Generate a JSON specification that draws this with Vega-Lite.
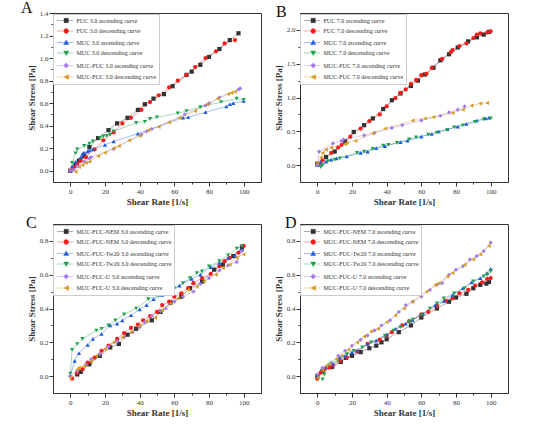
{
  "$schema": "https://vega.github.io/schema/vega-lite/v6.json",
  "padding": {"left": 20, "top": -1, "right": 0, "bottom": 0},
  "columns": 2,
  "bounds": "flush",
  "spacing": {"row": 42, "column": 39},
  "resolve": {"scale": {"color": "independent", "shape": "independent", "stroke": "independent"}},
  "config": {
    "background": "white",
    "font": "Liberation Serif",
    "view": {"stroke": "#333", "strokeWidth": 1},
    "title": {"font": "Liberation Serif", "fontSize": 16, "fontWeight": "normal", "anchor": "start", "frame": "group", "color": "#111", "offset": -6.5},
    "axis": {"grid": false, "labelFont": "Liberation Serif", "labelFontSize": 7, "labelColor": "#333", "titleFont": "Liberation Serif", "titleFontSize": 9, "titleFontWeight": "bold", "titleColor": "#333", "domainColor": "#333", "tickColor": "#333", "labelPadding": 1, "titlePadding": 3},
    "legend": {"orient": "none", "legendX": 0, "legendY": 1, "title": null, "labelFont": "Liberation Serif", "labelFontSize": 6, "labelColor": "#333", "symbolSize": 64, "symbolOffset": 5.5, "labelOffset": 7, "rowPadding": 1.5, "padding": 2, "strokeColor": "#ccc", "fillColor": "white", "symbolOpacity": 1}
  },
  "datasets": {
    "A": [
      {"s": "FUC 3.0 ascending curve", "x": 0, "y": 0}, {"s": "FUC 3.0 ascending curve", "x": 3, "y": 0.05}, {"s": "FUC 3.0 ascending curve", "x": 5, "y": 0.09}, {"s": "FUC 3.0 ascending curve", "x": 8, "y": 0.13}, {"s": "FUC 3.0 ascending curve", "x": 11, "y": 0.21}, {"s": "FUC 3.0 ascending curve", "x": 16, "y": 0.29}, {"s": "FUC 3.0 ascending curve", "x": 22, "y": 0.36}, {"s": "FUC 3.0 ascending curve", "x": 27, "y": 0.42}, {"s": "FUC 3.0 ascending curve", "x": 33, "y": 0.47}, {"s": "FUC 3.0 ascending curve", "x": 39, "y": 0.54}, {"s": "FUC 3.0 ascending curve", "x": 43, "y": 0.59}, {"s": "FUC 3.0 ascending curve", "x": 48, "y": 0.64}, {"s": "FUC 3.0 ascending curve", "x": 54, "y": 0.68}, {"s": "FUC 3.0 ascending curve", "x": 59, "y": 0.75}, {"s": "FUC 3.0 ascending curve", "x": 67, "y": 0.85}, {"s": "FUC 3.0 ascending curve", "x": 70, "y": 0.88}, {"s": "FUC 3.0 ascending curve", "x": 75, "y": 0.94}, {"s": "FUC 3.0 ascending curve", "x": 80, "y": 1.01}, {"s": "FUC 3.0 ascending curve", "x": 86, "y": 1.08}, {"s": "FUC 3.0 ascending curve", "x": 92, "y": 1.16}, {"s": "FUC 3.0 ascending curve", "x": 97, "y": 1.22},
      {"s": "FUC 3.0 descending curve", "x": 95, "y": 1.16}, {"s": "FUC 3.0 descending curve", "x": 89, "y": 1.13}, {"s": "FUC 3.0 descending curve", "x": 84, "y": 1.06}, {"s": "FUC 3.0 descending curve", "x": 78, "y": 1.0}, {"s": "FUC 3.0 descending curve", "x": 72, "y": 0.92}, {"s": "FUC 3.0 descending curve", "x": 67, "y": 0.85}, {"s": "FUC 3.0 descending curve", "x": 62, "y": 0.8}, {"s": "FUC 3.0 descending curve", "x": 57, "y": 0.74}, {"s": "FUC 3.0 descending curve", "x": 51, "y": 0.67}, {"s": "FUC 3.0 descending curve", "x": 46, "y": 0.61}, {"s": "FUC 3.0 descending curve", "x": 41, "y": 0.54}, {"s": "FUC 3.0 descending curve", "x": 35, "y": 0.47}, {"s": "FUC 3.0 descending curve", "x": 30, "y": 0.42}, {"s": "FUC 3.0 descending curve", "x": 25, "y": 0.34}, {"s": "FUC 3.0 descending curve", "x": 19, "y": 0.27}, {"s": "FUC 3.0 descending curve", "x": 14, "y": 0.19}, {"s": "FUC 3.0 descending curve", "x": 9, "y": 0.12}, {"s": "FUC 3.0 descending curve", "x": 6, "y": 0.09}, {"s": "FUC 3.0 descending curve", "x": 4, "y": 0.06}, {"s": "FUC 3.0 descending curve", "x": 2, "y": 0.03}, {"s": "FUC 3.0 descending curve", "x": 0, "y": 0.0},
      {"s": "MUC 3.0 ascending curve", "x": 0, "y": 0}, {"s": "MUC 3.0 ascending curve", "x": 1, "y": 0.04}, {"s": "MUC 3.0 ascending curve", "x": 3, "y": 0.08}, {"s": "MUC 3.0 ascending curve", "x": 6, "y": 0.12}, {"s": "MUC 3.0 ascending curve", "x": 7, "y": 0.15}, {"s": "MUC 3.0 ascending curve", "x": 8, "y": 0.16}, {"s": "MUC 3.0 ascending curve", "x": 10, "y": 0.17}, {"s": "MUC 3.0 ascending curve", "x": 11, "y": 0.18}, {"s": "MUC 3.0 ascending curve", "x": 13, "y": 0.19}, {"s": "MUC 3.0 ascending curve", "x": 20, "y": 0.23}, {"s": "MUC 3.0 ascending curve", "x": 25, "y": 0.26}, {"s": "MUC 3.0 ascending curve", "x": 39, "y": 0.33}, {"s": "MUC 3.0 ascending curve", "x": 65, "y": 0.47}, {"s": "MUC 3.0 ascending curve", "x": 68, "y": 0.475}, {"s": "MUC 3.0 ascending curve", "x": 78, "y": 0.52}, {"s": "MUC 3.0 ascending curve", "x": 90, "y": 0.57}, {"s": "MUC 3.0 ascending curve", "x": 92, "y": 0.59}, {"s": "MUC 3.0 ascending curve", "x": 94, "y": 0.6}, {"s": "MUC 3.0 ascending curve", "x": 100, "y": 0.62},
      {"s": "MUC 3.0 descending curve", "x": 100, "y": 0.63}, {"s": "MUC 3.0 descending curve", "x": 96, "y": 0.64}, {"s": "MUC 3.0 descending curve", "x": 87, "y": 0.61}, {"s": "MUC 3.0 descending curve", "x": 75, "y": 0.565}, {"s": "MUC 3.0 descending curve", "x": 67, "y": 0.53}, {"s": "MUC 3.0 descending curve", "x": 62, "y": 0.51}, {"s": "MUC 3.0 descending curve", "x": 50, "y": 0.475}, {"s": "MUC 3.0 descending curve", "x": 46, "y": 0.46}, {"s": "MUC 3.0 descending curve", "x": 43, "y": 0.435}, {"s": "MUC 3.0 descending curve", "x": 38, "y": 0.425}, {"s": "MUC 3.0 descending curve", "x": 25, "y": 0.35}, {"s": "MUC 3.0 descending curve", "x": 23, "y": 0.32}, {"s": "MUC 3.0 descending curve", "x": 21, "y": 0.31}, {"s": "MUC 3.0 descending curve", "x": 19, "y": 0.305}, {"s": "MUC 3.0 descending curve", "x": 17, "y": 0.29}, {"s": "MUC 3.0 descending curve", "x": 13, "y": 0.26}, {"s": "MUC 3.0 descending curve", "x": 11, "y": 0.24}, {"s": "MUC 3.0 descending curve", "x": 8, "y": 0.22}, {"s": "MUC 3.0 descending curve", "x": 4, "y": 0.19}, {"s": "MUC 3.0 descending curve", "x": 3, "y": 0.155}, {"s": "MUC 3.0 descending curve", "x": 1, "y": 0.07},
      {"s": "MUC-FUC 3.0 ascending curve", "x": 0, "y": 0}, {"s": "MUC-FUC 3.0 ascending curve", "x": 2, "y": 0.01}, {"s": "MUC-FUC 3.0 ascending curve", "x": 4, "y": 0.04}, {"s": "MUC-FUC 3.0 ascending curve", "x": 8, "y": 0.08}, {"s": "MUC-FUC 3.0 ascending curve", "x": 11, "y": 0.11}, {"s": "MUC-FUC 3.0 ascending curve", "x": 12, "y": 0.12}, {"s": "MUC-FUC 3.0 ascending curve", "x": 25, "y": 0.195}, {"s": "MUC-FUC 3.0 ascending curve", "x": 41, "y": 0.32}, {"s": "MUC-FUC 3.0 ascending curve", "x": 44, "y": 0.35}, {"s": "MUC-FUC 3.0 ascending curve", "x": 47, "y": 0.37}, {"s": "MUC-FUC 3.0 ascending curve", "x": 66, "y": 0.5}, {"s": "MUC-FUC 3.0 ascending curve", "x": 78, "y": 0.58}, {"s": "MUC-FUC 3.0 ascending curve", "x": 80, "y": 0.6}, {"s": "MUC-FUC 3.0 ascending curve", "x": 86, "y": 0.65}, {"s": "MUC-FUC 3.0 ascending curve", "x": 97, "y": 0.72}, {"s": "MUC-FUC 3.0 ascending curve", "x": 98, "y": 0.73},
      {"s": "MUC-FUC 3.0 descending curve", "x": 95, "y": 0.7}, {"s": "MUC-FUC 3.0 descending curve", "x": 93, "y": 0.69}, {"s": "MUC-FUC 3.0 descending curve", "x": 91, "y": 0.68}, {"s": "MUC-FUC 3.0 descending curve", "x": 85, "y": 0.64}, {"s": "MUC-FUC 3.0 descending curve", "x": 79, "y": 0.59}, {"s": "MUC-FUC 3.0 descending curve", "x": 72, "y": 0.53}, {"s": "MUC-FUC 3.0 descending curve", "x": 63, "y": 0.47}, {"s": "MUC-FUC 3.0 descending curve", "x": 57, "y": 0.43}, {"s": "MUC-FUC 3.0 descending curve", "x": 51, "y": 0.39}, {"s": "MUC-FUC 3.0 descending curve", "x": 45, "y": 0.36}, {"s": "MUC-FUC 3.0 descending curve", "x": 40, "y": 0.31}, {"s": "MUC-FUC 3.0 descending curve", "x": 34, "y": 0.27}, {"s": "MUC-FUC 3.0 descending curve", "x": 28, "y": 0.22}, {"s": "MUC-FUC 3.0 descending curve", "x": 25, "y": 0.2}, {"s": "MUC-FUC 3.0 descending curve", "x": 20, "y": 0.16}, {"s": "MUC-FUC 3.0 descending curve", "x": 16, "y": 0.13}, {"s": "MUC-FUC 3.0 descending curve", "x": 11, "y": 0.08}, {"s": "MUC-FUC 3.0 descending curve", "x": 9, "y": 0.07}, {"s": "MUC-FUC 3.0 descending curve", "x": 7, "y": 0.05}, {"s": "MUC-FUC 3.0 descending curve", "x": 5, "y": 0.035}, {"s": "MUC-FUC 3.0 descending curve", "x": 3, "y": -0.01}
    ],
    "B": [
      {"s": "FUC 7.0 ascending curve", "x": 0, "y": 0.02}, {"s": "FUC 7.0 ascending curve", "x": 5, "y": 0.12}, {"s": "FUC 7.0 ascending curve", "x": 10, "y": 0.2}, {"s": "FUC 7.0 ascending curve", "x": 16, "y": 0.35}, {"s": "FUC 7.0 ascending curve", "x": 21, "y": 0.49}, {"s": "FUC 7.0 ascending curve", "x": 27, "y": 0.59}, {"s": "FUC 7.0 ascending curve", "x": 32, "y": 0.69}, {"s": "FUC 7.0 ascending curve", "x": 38, "y": 0.83}, {"s": "FUC 7.0 ascending curve", "x": 43, "y": 0.96}, {"s": "FUC 7.0 ascending curve", "x": 48, "y": 1.06}, {"s": "FUC 7.0 ascending curve", "x": 54, "y": 1.17}, {"s": "FUC 7.0 ascending curve", "x": 58, "y": 1.25}, {"s": "FUC 7.0 ascending curve", "x": 62, "y": 1.34}, {"s": "FUC 7.0 ascending curve", "x": 67, "y": 1.44}, {"s": "FUC 7.0 ascending curve", "x": 71, "y": 1.55}, {"s": "FUC 7.0 ascending curve", "x": 76, "y": 1.64}, {"s": "FUC 7.0 ascending curve", "x": 81, "y": 1.74}, {"s": "FUC 7.0 ascending curve", "x": 87, "y": 1.83}, {"s": "FUC 7.0 ascending curve", "x": 92, "y": 1.89}, {"s": "FUC 7.0 ascending curve", "x": 96, "y": 1.93}, {"s": "FUC 7.0 ascending curve", "x": 99, "y": 1.97},
      {"s": "FUC 7.0 descending curve", "x": 100, "y": 1.98}, {"s": "FUC 7.0 descending curve", "x": 98, "y": 1.96}, {"s": "FUC 7.0 descending curve", "x": 94, "y": 1.95}, {"s": "FUC 7.0 descending curve", "x": 92, "y": 1.93}, {"s": "FUC 7.0 descending curve", "x": 90, "y": 1.88}, {"s": "FUC 7.0 descending curve", "x": 86, "y": 1.8}, {"s": "FUC 7.0 descending curve", "x": 82, "y": 1.76}, {"s": "FUC 7.0 descending curve", "x": 78, "y": 1.7}, {"s": "FUC 7.0 descending curve", "x": 77, "y": 1.67}, {"s": "FUC 7.0 descending curve", "x": 72, "y": 1.57}, {"s": "FUC 7.0 descending curve", "x": 66, "y": 1.44}, {"s": "FUC 7.0 descending curve", "x": 63, "y": 1.35}, {"s": "FUC 7.0 descending curve", "x": 60, "y": 1.33}, {"s": "FUC 7.0 descending curve", "x": 57, "y": 1.26}, {"s": "FUC 7.0 descending curve", "x": 54, "y": 1.2}, {"s": "FUC 7.0 descending curve", "x": 51, "y": 1.12}, {"s": "FUC 7.0 descending curve", "x": 48, "y": 1.07}, {"s": "FUC 7.0 descending curve", "x": 45, "y": 0.99}, {"s": "FUC 7.0 descending curve", "x": 40, "y": 0.87}, {"s": "FUC 7.0 descending curve", "x": 36, "y": 0.75}, {"s": "FUC 7.0 descending curve", "x": 30, "y": 0.65}, {"s": "FUC 7.0 descending curve", "x": 25, "y": 0.54}, {"s": "FUC 7.0 descending curve", "x": 19, "y": 0.42}, {"s": "FUC 7.0 descending curve", "x": 14, "y": 0.3}, {"s": "FUC 7.0 descending curve", "x": 12, "y": 0.26}, {"s": "FUC 7.0 descending curve", "x": 8, "y": 0.18}, {"s": "FUC 7.0 descending curve", "x": 3, "y": 0.07}, {"s": "FUC 7.0 descending curve", "x": 1, "y": 0.02},
      {"s": "MUC 7.0 ascending curve", "x": 0, "y": 0.0}, {"s": "MUC 7.0 ascending curve", "x": 2, "y": 0.04}, {"s": "MUC 7.0 ascending curve", "x": 5, "y": 0.05}, {"s": "MUC 7.0 ascending curve", "x": 8, "y": 0.08}, {"s": "MUC 7.0 ascending curve", "x": 11, "y": 0.1}, {"s": "MUC 7.0 ascending curve", "x": 17, "y": 0.13}, {"s": "MUC 7.0 ascending curve", "x": 25, "y": 0.18}, {"s": "MUC 7.0 ascending curve", "x": 29, "y": 0.2}, {"s": "MUC 7.0 ascending curve", "x": 34, "y": 0.25}, {"s": "MUC 7.0 ascending curve", "x": 39, "y": 0.28}, {"s": "MUC 7.0 ascending curve", "x": 48, "y": 0.34}, {"s": "MUC 7.0 ascending curve", "x": 52, "y": 0.36}, {"s": "MUC 7.0 ascending curve", "x": 60, "y": 0.42}, {"s": "MUC 7.0 ascending curve", "x": 66, "y": 0.46}, {"s": "MUC 7.0 ascending curve", "x": 70, "y": 0.5}, {"s": "MUC 7.0 ascending curve", "x": 75, "y": 0.53}, {"s": "MUC 7.0 ascending curve", "x": 81, "y": 0.57}, {"s": "MUC 7.0 ascending curve", "x": 86, "y": 0.61}, {"s": "MUC 7.0 ascending curve", "x": 92, "y": 0.66}, {"s": "MUC 7.0 ascending curve", "x": 97, "y": 0.69}, {"s": "MUC 7.0 ascending curve", "x": 99, "y": 0.7},
      {"s": "MUC 7.0 descending curve", "x": 100, "y": 0.69}, {"s": "MUC 7.0 descending curve", "x": 96, "y": 0.68}, {"s": "MUC 7.0 descending curve", "x": 91, "y": 0.64}, {"s": "MUC 7.0 descending curve", "x": 84, "y": 0.59}, {"s": "MUC 7.0 descending curve", "x": 79, "y": 0.56}, {"s": "MUC 7.0 descending curve", "x": 75, "y": 0.52}, {"s": "MUC 7.0 descending curve", "x": 69, "y": 0.48}, {"s": "MUC 7.0 descending curve", "x": 64, "y": 0.45}, {"s": "MUC 7.0 descending curve", "x": 57, "y": 0.41}, {"s": "MUC 7.0 descending curve", "x": 53, "y": 0.38}, {"s": "MUC 7.0 descending curve", "x": 46, "y": 0.33}, {"s": "MUC 7.0 descending curve", "x": 41, "y": 0.3}, {"s": "MUC 7.0 descending curve", "x": 38, "y": 0.29}, {"s": "MUC 7.0 descending curve", "x": 32, "y": 0.24}, {"s": "MUC 7.0 descending curve", "x": 27, "y": 0.2}, {"s": "MUC 7.0 descending curve", "x": 23, "y": 0.18}, {"s": "MUC 7.0 descending curve", "x": 13, "y": 0.1}, {"s": "MUC 7.0 descending curve", "x": 10, "y": 0.08}, {"s": "MUC 7.0 descending curve", "x": 6, "y": 0.06}, {"s": "MUC 7.0 descending curve", "x": 3, "y": 0.0}, {"s": "MUC 7.0 descending curve", "x": 2, "y": -0.03},
      {"s": "MUC-FUC 7.0 ascending curve", "x": 0, "y": 0.0}, {"s": "MUC-FUC 7.0 ascending curve", "x": 1, "y": 0.2}, {"s": "MUC-FUC 7.0 ascending curve", "x": 9, "y": 0.32}, {"s": "MUC-FUC 7.0 ascending curve", "x": 14, "y": 0.36}, {"s": "MUC-FUC 7.0 ascending curve", "x": 15, "y": 0.38}, {"s": "MUC-FUC 7.0 ascending curve", "x": 27, "y": 0.44}, {"s": "MUC-FUC 7.0 ascending curve", "x": 33, "y": 0.48}, {"s": "MUC-FUC 7.0 ascending curve", "x": 43, "y": 0.55}, {"s": "MUC-FUC 7.0 ascending curve", "x": 49, "y": 0.59}, {"s": "MUC-FUC 7.0 ascending curve", "x": 60, "y": 0.66}, {"s": "MUC-FUC 7.0 ascending curve", "x": 71, "y": 0.73}, {"s": "MUC-FUC 7.0 ascending curve", "x": 76, "y": 0.78}, {"s": "MUC-FUC 7.0 ascending curve", "x": 81, "y": 0.82}, {"s": "MUC-FUC 7.0 ascending curve", "x": 85, "y": 0.87},
      {"s": "MUC-FUC 7.0 descending curve", "x": 98, "y": 0.92}, {"s": "MUC-FUC 7.0 descending curve", "x": 94, "y": 0.91}, {"s": "MUC-FUC 7.0 descending curve", "x": 89, "y": 0.88}, {"s": "MUC-FUC 7.0 descending curve", "x": 84, "y": 0.82}, {"s": "MUC-FUC 7.0 descending curve", "x": 78, "y": 0.77}, {"s": "MUC-FUC 7.0 descending curve", "x": 67, "y": 0.71}, {"s": "MUC-FUC 7.0 descending curve", "x": 62, "y": 0.69}, {"s": "MUC-FUC 7.0 descending curve", "x": 55, "y": 0.66}, {"s": "MUC-FUC 7.0 descending curve", "x": 39, "y": 0.54}, {"s": "MUC-FUC 7.0 descending curve", "x": 32, "y": 0.47}, {"s": "MUC-FUC 7.0 descending curve", "x": 22, "y": 0.36}, {"s": "MUC-FUC 7.0 descending curve", "x": 17, "y": 0.33}, {"s": "MUC-FUC 7.0 descending curve", "x": 16, "y": 0.31}, {"s": "MUC-FUC 7.0 descending curve", "x": 8, "y": 0.26}, {"s": "MUC-FUC 7.0 descending curve", "x": 5, "y": 0.23}, {"s": "MUC-FUC 7.0 descending curve", "x": 3, "y": 0.18}, {"s": "MUC-FUC 7.0 descending curve", "x": 2, "y": 0.11}, {"s": "MUC-FUC 7.0 descending curve", "x": 0, "y": 0.03}
    ],
    "C": [
      {"s": "MUC-FUC-NEM 3.0 ascending curve", "x": 4, "y": 0.01}, {"s": "MUC-FUC-NEM 3.0 ascending curve", "x": 6, "y": 0.025}, {"s": "MUC-FUC-NEM 3.0 ascending curve", "x": 11, "y": 0.07}, {"s": "MUC-FUC-NEM 3.0 ascending curve", "x": 17, "y": 0.12}, {"s": "MUC-FUC-NEM 3.0 ascending curve", "x": 23, "y": 0.17}, {"s": "MUC-FUC-NEM 3.0 ascending curve", "x": 28, "y": 0.19}, {"s": "MUC-FUC-NEM 3.0 ascending curve", "x": 33, "y": 0.245}, {"s": "MUC-FUC-NEM 3.0 ascending curve", "x": 38, "y": 0.28}, {"s": "MUC-FUC-NEM 3.0 ascending curve", "x": 47, "y": 0.33}, {"s": "MUC-FUC-NEM 3.0 ascending curve", "x": 52, "y": 0.38}, {"s": "MUC-FUC-NEM 3.0 ascending curve", "x": 58, "y": 0.435}, {"s": "MUC-FUC-NEM 3.0 ascending curve", "x": 64, "y": 0.47}, {"s": "MUC-FUC-NEM 3.0 ascending curve", "x": 69, "y": 0.52}, {"s": "MUC-FUC-NEM 3.0 ascending curve", "x": 76, "y": 0.56}, {"s": "MUC-FUC-NEM 3.0 ascending curve", "x": 83, "y": 0.63}, {"s": "MUC-FUC-NEM 3.0 ascending curve", "x": 88, "y": 0.66}, {"s": "MUC-FUC-NEM 3.0 ascending curve", "x": 94, "y": 0.71}, {"s": "MUC-FUC-NEM 3.0 ascending curve", "x": 99, "y": 0.76},
      {"s": "MUC-FUC-NEM 3.0 descending curve", "x": 100, "y": 0.77}, {"s": "MUC-FUC-NEM 3.0 descending curve", "x": 97, "y": 0.73}, {"s": "MUC-FUC-NEM 3.0 descending curve", "x": 92, "y": 0.7}, {"s": "MUC-FUC-NEM 3.0 descending curve", "x": 89, "y": 0.68}, {"s": "MUC-FUC-NEM 3.0 descending curve", "x": 86, "y": 0.65}, {"s": "MUC-FUC-NEM 3.0 descending curve", "x": 81, "y": 0.605}, {"s": "MUC-FUC-NEM 3.0 descending curve", "x": 76, "y": 0.58}, {"s": "MUC-FUC-NEM 3.0 descending curve", "x": 71, "y": 0.55}, {"s": "MUC-FUC-NEM 3.0 descending curve", "x": 68, "y": 0.52}, {"s": "MUC-FUC-NEM 3.0 descending curve", "x": 64, "y": 0.49}, {"s": "MUC-FUC-NEM 3.0 descending curve", "x": 60, "y": 0.47}, {"s": "MUC-FUC-NEM 3.0 descending curve", "x": 57, "y": 0.44}, {"s": "MUC-FUC-NEM 3.0 descending curve", "x": 53, "y": 0.42}, {"s": "MUC-FUC-NEM 3.0 descending curve", "x": 50, "y": 0.38}, {"s": "MUC-FUC-NEM 3.0 descending curve", "x": 46, "y": 0.355}, {"s": "MUC-FUC-NEM 3.0 descending curve", "x": 42, "y": 0.33}, {"s": "MUC-FUC-NEM 3.0 descending curve", "x": 39, "y": 0.305}, {"s": "MUC-FUC-NEM 3.0 descending curve", "x": 35, "y": 0.285}, {"s": "MUC-FUC-NEM 3.0 descending curve", "x": 31, "y": 0.255}, {"s": "MUC-FUC-NEM 3.0 descending curve", "x": 27, "y": 0.22}, {"s": "MUC-FUC-NEM 3.0 descending curve", "x": 22, "y": 0.18}, {"s": "MUC-FUC-NEM 3.0 descending curve", "x": 18, "y": 0.15}, {"s": "MUC-FUC-NEM 3.0 descending curve", "x": 14, "y": 0.11}, {"s": "MUC-FUC-NEM 3.0 descending curve", "x": 10, "y": 0.08}, {"s": "MUC-FUC-NEM 3.0 descending curve", "x": 7, "y": 0.04}, {"s": "MUC-FUC-NEM 3.0 descending curve", "x": 4, "y": 0.02}, {"s": "MUC-FUC-NEM 3.0 descending curve", "x": 1, "y": -0.015},
      {"s": "MUC-FUC-Tw20 3.0 ascending curve", "x": 0, "y": 0.005}, {"s": "MUC-FUC-Tw20 3.0 ascending curve", "x": 2.5, "y": 0.09}, {"s": "MUC-FUC-Tw20 3.0 ascending curve", "x": 5, "y": 0.135}, {"s": "MUC-FUC-Tw20 3.0 ascending curve", "x": 10, "y": 0.185}, {"s": "MUC-FUC-Tw20 3.0 ascending curve", "x": 13, "y": 0.22}, {"s": "MUC-FUC-Tw20 3.0 ascending curve", "x": 18, "y": 0.25}, {"s": "MUC-FUC-Tw20 3.0 ascending curve", "x": 23, "y": 0.3}, {"s": "MUC-FUC-Tw20 3.0 ascending curve", "x": 27, "y": 0.31}, {"s": "MUC-FUC-Tw20 3.0 ascending curve", "x": 30, "y": 0.33}, {"s": "MUC-FUC-Tw20 3.0 ascending curve", "x": 35, "y": 0.36}, {"s": "MUC-FUC-Tw20 3.0 ascending curve", "x": 40, "y": 0.395}, {"s": "MUC-FUC-Tw20 3.0 ascending curve", "x": 44, "y": 0.42}, {"s": "MUC-FUC-Tw20 3.0 ascending curve", "x": 48, "y": 0.455}, {"s": "MUC-FUC-Tw20 3.0 ascending curve", "x": 53, "y": 0.48}, {"s": "MUC-FUC-Tw20 3.0 ascending curve", "x": 58, "y": 0.5}, {"s": "MUC-FUC-Tw20 3.0 ascending curve", "x": 63, "y": 0.535}, {"s": "MUC-FUC-Tw20 3.0 ascending curve", "x": 70, "y": 0.575}, {"s": "MUC-FUC-Tw20 3.0 ascending curve", "x": 75, "y": 0.6}, {"s": "MUC-FUC-Tw20 3.0 ascending curve", "x": 81, "y": 0.645}, {"s": "MUC-FUC-Tw20 3.0 ascending curve", "x": 86, "y": 0.67}, {"s": "MUC-FUC-Tw20 3.0 ascending curve", "x": 91, "y": 0.7}, {"s": "MUC-FUC-Tw20 3.0 ascending curve", "x": 95, "y": 0.715}, {"s": "MUC-FUC-Tw20 3.0 ascending curve", "x": 99, "y": 0.75},
      {"s": "MUC-FUC-Tw20 3.0 descending curve", "x": 99, "y": 0.77}, {"s": "MUC-FUC-Tw20 3.0 descending curve", "x": 96, "y": 0.755}, {"s": "MUC-FUC-Tw20 3.0 descending curve", "x": 91, "y": 0.715}, {"s": "MUC-FUC-Tw20 3.0 descending curve", "x": 86, "y": 0.68}, {"s": "MUC-FUC-Tw20 3.0 descending curve", "x": 80, "y": 0.65}, {"s": "MUC-FUC-Tw20 3.0 descending curve", "x": 76, "y": 0.62}, {"s": "MUC-FUC-Tw20 3.0 descending curve", "x": 73, "y": 0.61}, {"s": "MUC-FUC-Tw20 3.0 descending curve", "x": 69, "y": 0.58}, {"s": "MUC-FUC-Tw20 3.0 descending curve", "x": 65, "y": 0.55}, {"s": "MUC-FUC-Tw20 3.0 descending curve", "x": 60, "y": 0.52}, {"s": "MUC-FUC-Tw20 3.0 descending curve", "x": 55, "y": 0.5}, {"s": "MUC-FUC-Tw20 3.0 descending curve", "x": 51, "y": 0.475}, {"s": "MUC-FUC-Tw20 3.0 descending curve", "x": 45, "y": 0.455}, {"s": "MUC-FUC-Tw20 3.0 descending curve", "x": 38, "y": 0.4}, {"s": "MUC-FUC-Tw20 3.0 descending curve", "x": 31, "y": 0.365}, {"s": "MUC-FUC-Tw20 3.0 descending curve", "x": 26, "y": 0.33}, {"s": "MUC-FUC-Tw20 3.0 descending curve", "x": 22, "y": 0.3}, {"s": "MUC-FUC-Tw20 3.0 descending curve", "x": 18, "y": 0.28}, {"s": "MUC-FUC-Tw20 3.0 descending curve", "x": 15, "y": 0.27}, {"s": "MUC-FUC-Tw20 3.0 descending curve", "x": 7, "y": 0.22}, {"s": "MUC-FUC-Tw20 3.0 descending curve", "x": 4, "y": 0.19}, {"s": "MUC-FUC-Tw20 3.0 descending curve", "x": 1, "y": 0.155}, {"s": "MUC-FUC-Tw20 3.0 descending curve", "x": 0, "y": 0.015},
      {"s": "MUC-FUC-U 3.0 ascending curve", "x": 0, "y": 0.0}, {"s": "MUC-FUC-U 3.0 ascending curve", "x": 4, "y": 0.03}, {"s": "MUC-FUC-U 3.0 ascending curve", "x": 9, "y": 0.07}, {"s": "MUC-FUC-U 3.0 ascending curve", "x": 12, "y": 0.1}, {"s": "MUC-FUC-U 3.0 ascending curve", "x": 17, "y": 0.13}, {"s": "MUC-FUC-U 3.0 ascending curve", "x": 22, "y": 0.175}, {"s": "MUC-FUC-U 3.0 ascending curve", "x": 27, "y": 0.205}, {"s": "MUC-FUC-U 3.0 ascending curve", "x": 31, "y": 0.23}, {"s": "MUC-FUC-U 3.0 ascending curve", "x": 36, "y": 0.26}, {"s": "MUC-FUC-U 3.0 ascending curve", "x": 40, "y": 0.29}, {"s": "MUC-FUC-U 3.0 ascending curve", "x": 43, "y": 0.32}, {"s": "MUC-FUC-U 3.0 ascending curve", "x": 47, "y": 0.355}, {"s": "MUC-FUC-U 3.0 ascending curve", "x": 52, "y": 0.385}, {"s": "MUC-FUC-U 3.0 ascending curve", "x": 55, "y": 0.4}, {"s": "MUC-FUC-U 3.0 ascending curve", "x": 60, "y": 0.44}, {"s": "MUC-FUC-U 3.0 ascending curve", "x": 65, "y": 0.47}, {"s": "MUC-FUC-U 3.0 ascending curve", "x": 71, "y": 0.5}, {"s": "MUC-FUC-U 3.0 ascending curve", "x": 75, "y": 0.545}, {"s": "MUC-FUC-U 3.0 ascending curve", "x": 80, "y": 0.58}, {"s": "MUC-FUC-U 3.0 ascending curve", "x": 86, "y": 0.625}, {"s": "MUC-FUC-U 3.0 ascending curve", "x": 91, "y": 0.655}, {"s": "MUC-FUC-U 3.0 ascending curve", "x": 96, "y": 0.675}, {"s": "MUC-FUC-U 3.0 ascending curve", "x": 99, "y": 0.74},
      {"s": "MUC-FUC-U 3.0 descending curve", "x": 100, "y": 0.72}, {"s": "MUC-FUC-U 3.0 descending curve", "x": 96, "y": 0.7}, {"s": "MUC-FUC-U 3.0 descending curve", "x": 92, "y": 0.66}, {"s": "MUC-FUC-U 3.0 descending curve", "x": 88, "y": 0.64}, {"s": "MUC-FUC-U 3.0 descending curve", "x": 84, "y": 0.6}, {"s": "MUC-FUC-U 3.0 descending curve", "x": 77, "y": 0.56}, {"s": "MUC-FUC-U 3.0 descending curve", "x": 73, "y": 0.53}, {"s": "MUC-FUC-U 3.0 descending curve", "x": 68, "y": 0.51}, {"s": "MUC-FUC-U 3.0 descending curve", "x": 62, "y": 0.46}, {"s": "MUC-FUC-U 3.0 descending curve", "x": 58, "y": 0.43}, {"s": "MUC-FUC-U 3.0 descending curve", "x": 53, "y": 0.39}, {"s": "MUC-FUC-U 3.0 descending curve", "x": 49, "y": 0.345}, {"s": "MUC-FUC-U 3.0 descending curve", "x": 44, "y": 0.325}, {"s": "MUC-FUC-U 3.0 descending curve", "x": 40, "y": 0.3}, {"s": "MUC-FUC-U 3.0 descending curve", "x": 35, "y": 0.26}, {"s": "MUC-FUC-U 3.0 descending curve", "x": 30, "y": 0.23}, {"s": "MUC-FUC-U 3.0 descending curve", "x": 25, "y": 0.2}, {"s": "MUC-FUC-U 3.0 descending curve", "x": 20, "y": 0.16}, {"s": "MUC-FUC-U 3.0 descending curve", "x": 15, "y": 0.12}, {"s": "MUC-FUC-U 3.0 descending curve", "x": 12, "y": 0.085}, {"s": "MUC-FUC-U 3.0 descending curve", "x": 8, "y": 0.06}, {"s": "MUC-FUC-U 3.0 descending curve", "x": 5, "y": 0.05}, {"s": "MUC-FUC-U 3.0 descending curve", "x": 4, "y": 0.04}, {"s": "MUC-FUC-U 3.0 descending curve", "x": 0, "y": -0.01}
    ],
    "D": [
      {"s": "MUC-FUC-NEM 7.0 ascending curve", "x": 0, "y": 0.0}, {"s": "MUC-FUC-NEM 7.0 ascending curve", "x": 3, "y": 0.03}, {"s": "MUC-FUC-NEM 7.0 ascending curve", "x": 8.5, "y": 0.054}, {"s": "MUC-FUC-NEM 7.0 ascending curve", "x": 13.5, "y": 0.084}, {"s": "MUC-FUC-NEM 7.0 ascending curve", "x": 16.5, "y": 0.108}, {"s": "MUC-FUC-NEM 7.0 ascending curve", "x": 20, "y": 0.12}, {"s": "MUC-FUC-NEM 7.0 ascending curve", "x": 25, "y": 0.142}, {"s": "MUC-FUC-NEM 7.0 ascending curve", "x": 30, "y": 0.165}, {"s": "MUC-FUC-NEM 7.0 ascending curve", "x": 34, "y": 0.18}, {"s": "MUC-FUC-NEM 7.0 ascending curve", "x": 37, "y": 0.2}, {"s": "MUC-FUC-NEM 7.0 ascending curve", "x": 40, "y": 0.218}, {"s": "MUC-FUC-NEM 7.0 ascending curve", "x": 47, "y": 0.26}, {"s": "MUC-FUC-NEM 7.0 ascending curve", "x": 54, "y": 0.3}, {"s": "MUC-FUC-NEM 7.0 ascending curve", "x": 60, "y": 0.347}, {"s": "MUC-FUC-NEM 7.0 ascending curve", "x": 69, "y": 0.4}, {"s": "MUC-FUC-NEM 7.0 ascending curve", "x": 76, "y": 0.44}, {"s": "MUC-FUC-NEM 7.0 ascending curve", "x": 80, "y": 0.465}, {"s": "MUC-FUC-NEM 7.0 ascending curve", "x": 86, "y": 0.487}, {"s": "MUC-FUC-NEM 7.0 ascending curve", "x": 90, "y": 0.52}, {"s": "MUC-FUC-NEM 7.0 ascending curve", "x": 94, "y": 0.54}, {"s": "MUC-FUC-NEM 7.0 ascending curve", "x": 97.5, "y": 0.547}, {"s": "MUC-FUC-NEM 7.0 ascending curve", "x": 99, "y": 0.557},
      {"s": "MUC-FUC-NEM 7.0 descending curve", "x": 100, "y": 0.58}, {"s": "MUC-FUC-NEM 7.0 descending curve", "x": 98, "y": 0.575}, {"s": "MUC-FUC-NEM 7.0 descending curve", "x": 95, "y": 0.555}, {"s": "MUC-FUC-NEM 7.0 descending curve", "x": 91, "y": 0.535}, {"s": "MUC-FUC-NEM 7.0 descending curve", "x": 87, "y": 0.51}, {"s": "MUC-FUC-NEM 7.0 descending curve", "x": 82, "y": 0.49}, {"s": "MUC-FUC-NEM 7.0 descending curve", "x": 78, "y": 0.46}, {"s": "MUC-FUC-NEM 7.0 descending curve", "x": 74, "y": 0.445}, {"s": "MUC-FUC-NEM 7.0 descending curve", "x": 69, "y": 0.415}, {"s": "MUC-FUC-NEM 7.0 descending curve", "x": 64, "y": 0.38}, {"s": "MUC-FUC-NEM 7.0 descending curve", "x": 60, "y": 0.365}, {"s": "MUC-FUC-NEM 7.0 descending curve", "x": 53, "y": 0.325}, {"s": "MUC-FUC-NEM 7.0 descending curve", "x": 49, "y": 0.3}, {"s": "MUC-FUC-NEM 7.0 descending curve", "x": 43, "y": 0.26}, {"s": "MUC-FUC-NEM 7.0 descending curve", "x": 40, "y": 0.24}, {"s": "MUC-FUC-NEM 7.0 descending curve", "x": 36, "y": 0.215}, {"s": "MUC-FUC-NEM 7.0 descending curve", "x": 29, "y": 0.19}, {"s": "MUC-FUC-NEM 7.0 descending curve", "x": 23, "y": 0.145}, {"s": "MUC-FUC-NEM 7.0 descending curve", "x": 17, "y": 0.11}, {"s": "MUC-FUC-NEM 7.0 descending curve", "x": 13, "y": 0.09}, {"s": "MUC-FUC-NEM 7.0 descending curve", "x": 9, "y": 0.065}, {"s": "MUC-FUC-NEM 7.0 descending curve", "x": 7, "y": 0.05}, {"s": "MUC-FUC-NEM 7.0 descending curve", "x": 4, "y": 0.04}, {"s": "MUC-FUC-NEM 7.0 descending curve", "x": 2, "y": 0.02}, {"s": "MUC-FUC-NEM 7.0 descending curve", "x": 0, "y": -0.015},
      {"s": "MUC-FUC-Tw20 7.0 ascending curve", "x": 0, "y": 0.0}, {"s": "MUC-FUC-Tw20 7.0 ascending curve", "x": 3, "y": 0.04}, {"s": "MUC-FUC-Tw20 7.0 ascending curve", "x": 5, "y": 0.055}, {"s": "MUC-FUC-Tw20 7.0 ascending curve", "x": 9, "y": 0.07}, {"s": "MUC-FUC-Tw20 7.0 ascending curve", "x": 13, "y": 0.11}, {"s": "MUC-FUC-Tw20 7.0 ascending curve", "x": 16, "y": 0.12}, {"s": "MUC-FUC-Tw20 7.0 ascending curve", "x": 20, "y": 0.14}, {"s": "MUC-FUC-Tw20 7.0 ascending curve", "x": 23, "y": 0.15}, {"s": "MUC-FUC-Tw20 7.0 ascending curve", "x": 29, "y": 0.19}, {"s": "MUC-FUC-Tw20 7.0 ascending curve", "x": 34, "y": 0.21}, {"s": "MUC-FUC-Tw20 7.0 ascending curve", "x": 40, "y": 0.245}, {"s": "MUC-FUC-Tw20 7.0 ascending curve", "x": 45, "y": 0.28}, {"s": "MUC-FUC-Tw20 7.0 ascending curve", "x": 51, "y": 0.31}, {"s": "MUC-FUC-Tw20 7.0 ascending curve", "x": 55, "y": 0.33}, {"s": "MUC-FUC-Tw20 7.0 ascending curve", "x": 61, "y": 0.37}, {"s": "MUC-FUC-Tw20 7.0 ascending curve", "x": 68, "y": 0.42}, {"s": "MUC-FUC-Tw20 7.0 ascending curve", "x": 73, "y": 0.445}, {"s": "MUC-FUC-Tw20 7.0 ascending curve", "x": 78, "y": 0.48}, {"s": "MUC-FUC-Tw20 7.0 ascending curve", "x": 84, "y": 0.52}, {"s": "MUC-FUC-Tw20 7.0 ascending curve", "x": 89, "y": 0.555}, {"s": "MUC-FUC-Tw20 7.0 ascending curve", "x": 94, "y": 0.58}, {"s": "MUC-FUC-Tw20 7.0 ascending curve", "x": 98, "y": 0.61}, {"s": "MUC-FUC-Tw20 7.0 ascending curve", "x": 100, "y": 0.635},
      {"s": "MUC-FUC-Tw20 7.0 descending curve", "x": 100, "y": 0.62}, {"s": "MUC-FUC-Tw20 7.0 descending curve", "x": 98, "y": 0.6}, {"s": "MUC-FUC-Tw20 7.0 descending curve", "x": 96, "y": 0.59}, {"s": "MUC-FUC-Tw20 7.0 descending curve", "x": 90, "y": 0.56}, {"s": "MUC-FUC-Tw20 7.0 descending curve", "x": 85, "y": 0.52}, {"s": "MUC-FUC-Tw20 7.0 descending curve", "x": 79, "y": 0.49}, {"s": "MUC-FUC-Tw20 7.0 descending curve", "x": 73, "y": 0.46}, {"s": "MUC-FUC-Tw20 7.0 descending curve", "x": 69, "y": 0.43}, {"s": "MUC-FUC-Tw20 7.0 descending curve", "x": 65, "y": 0.4}, {"s": "MUC-FUC-Tw20 7.0 descending curve", "x": 60, "y": 0.36}, {"s": "MUC-FUC-Tw20 7.0 descending curve", "x": 55, "y": 0.335}, {"s": "MUC-FUC-Tw20 7.0 descending curve", "x": 53, "y": 0.32}, {"s": "MUC-FUC-Tw20 7.0 descending curve", "x": 48, "y": 0.29}, {"s": "MUC-FUC-Tw20 7.0 descending curve", "x": 44, "y": 0.27}, {"s": "MUC-FUC-Tw20 7.0 descending curve", "x": 39, "y": 0.24}, {"s": "MUC-FUC-Tw20 7.0 descending curve", "x": 31, "y": 0.2}, {"s": "MUC-FUC-Tw20 7.0 descending curve", "x": 26, "y": 0.17}, {"s": "MUC-FUC-Tw20 7.0 descending curve", "x": 21, "y": 0.15}, {"s": "MUC-FUC-Tw20 7.0 descending curve", "x": 17, "y": 0.13}, {"s": "MUC-FUC-Tw20 7.0 descending curve", "x": 12, "y": 0.09}, {"s": "MUC-FUC-Tw20 7.0 descending curve", "x": 7, "y": 0.065}, {"s": "MUC-FUC-Tw20 7.0 descending curve", "x": 4, "y": 0.01}, {"s": "MUC-FUC-Tw20 7.0 descending curve", "x": 3, "y": -0.02},
      {"s": "MUC-FUC-U 7.0 ascending curve", "x": 0, "y": 0.01}, {"s": "MUC-FUC-U 7.0 ascending curve", "x": 3, "y": 0.05}, {"s": "MUC-FUC-U 7.0 ascending curve", "x": 8, "y": 0.08}, {"s": "MUC-FUC-U 7.0 ascending curve", "x": 12, "y": 0.12}, {"s": "MUC-FUC-U 7.0 ascending curve", "x": 16, "y": 0.15}, {"s": "MUC-FUC-U 7.0 ascending curve", "x": 20, "y": 0.18}, {"s": "MUC-FUC-U 7.0 ascending curve", "x": 25, "y": 0.215}, {"s": "MUC-FUC-U 7.0 ascending curve", "x": 29, "y": 0.24}, {"s": "MUC-FUC-U 7.0 ascending curve", "x": 33, "y": 0.27}, {"s": "MUC-FUC-U 7.0 ascending curve", "x": 37, "y": 0.3}, {"s": "MUC-FUC-U 7.0 ascending curve", "x": 42, "y": 0.33}, {"s": "MUC-FUC-U 7.0 ascending curve", "x": 47, "y": 0.38}, {"s": "MUC-FUC-U 7.0 ascending curve", "x": 51, "y": 0.42}, {"s": "MUC-FUC-U 7.0 ascending curve", "x": 55, "y": 0.44}, {"s": "MUC-FUC-U 7.0 ascending curve", "x": 60, "y": 0.47}, {"s": "MUC-FUC-U 7.0 ascending curve", "x": 65, "y": 0.51}, {"s": "MUC-FUC-U 7.0 ascending curve", "x": 69, "y": 0.54}, {"s": "MUC-FUC-U 7.0 ascending curve", "x": 72, "y": 0.55}, {"s": "MUC-FUC-U 7.0 ascending curve", "x": 76, "y": 0.6}, {"s": "MUC-FUC-U 7.0 ascending curve", "x": 80, "y": 0.63}, {"s": "MUC-FUC-U 7.0 ascending curve", "x": 84, "y": 0.65}, {"s": "MUC-FUC-U 7.0 ascending curve", "x": 88, "y": 0.69}, {"s": "MUC-FUC-U 7.0 ascending curve", "x": 92, "y": 0.71}, {"s": "MUC-FUC-U 7.0 ascending curve", "x": 96, "y": 0.74}, {"s": "MUC-FUC-U 7.0 ascending curve", "x": 100, "y": 0.79},
      {"s": "MUC-FUC-U 7.0 descending curve", "x": 99, "y": 0.77}, {"s": "MUC-FUC-U 7.0 descending curve", "x": 94, "y": 0.72}, {"s": "MUC-FUC-U 7.0 descending curve", "x": 90, "y": 0.69}, {"s": "MUC-FUC-U 7.0 descending curve", "x": 85, "y": 0.66}, {"s": "MUC-FUC-U 7.0 descending curve", "x": 78, "y": 0.61}, {"s": "MUC-FUC-U 7.0 descending curve", "x": 75, "y": 0.59}, {"s": "MUC-FUC-U 7.0 descending curve", "x": 70, "y": 0.55}, {"s": "MUC-FUC-U 7.0 descending curve", "x": 68, "y": 0.54}, {"s": "MUC-FUC-U 7.0 descending curve", "x": 63, "y": 0.5}, {"s": "MUC-FUC-U 7.0 descending curve", "x": 59, "y": 0.48}, {"s": "MUC-FUC-U 7.0 descending curve", "x": 55, "y": 0.44}, {"s": "MUC-FUC-U 7.0 descending curve", "x": 50, "y": 0.4}, {"s": "MUC-FUC-U 7.0 descending curve", "x": 45, "y": 0.36}, {"s": "MUC-FUC-U 7.0 descending curve", "x": 40, "y": 0.32}, {"s": "MUC-FUC-U 7.0 descending curve", "x": 35, "y": 0.28}, {"s": "MUC-FUC-U 7.0 descending curve", "x": 31, "y": 0.265}, {"s": "MUC-FUC-U 7.0 descending curve", "x": 27, "y": 0.235}, {"s": "MUC-FUC-U 7.0 descending curve", "x": 23, "y": 0.2}, {"s": "MUC-FUC-U 7.0 descending curve", "x": 18, "y": 0.155}, {"s": "MUC-FUC-U 7.0 descending curve", "x": 14, "y": 0.12}, {"s": "MUC-FUC-U 7.0 descending curve", "x": 11, "y": 0.1}, {"s": "MUC-FUC-U 7.0 descending curve", "x": 7, "y": 0.07}, {"s": "MUC-FUC-U 7.0 descending curve", "x": 5, "y": 0.06}, {"s": "MUC-FUC-U 7.0 descending curve", "x": 3, "y": 0.035}, {"s": "MUC-FUC-U 7.0 descending curve", "x": 0, "y": -0.01}
    ]
  },
  "concat": [
    {
      "title": {"text": "A", "dx": -32},
      "width": 208, "height": 169,
      "data": {"name": "A"},
      "encoding": {
        "x": {"field": "x", "type": "quantitative", "title": "Shear Rate [1/s]", "scale": {"domain": [-10, 110], "nice": false, "zero": false},
          "axis": {"values": [0, 10, 20, 30, 40, 50, 60, 70, 80, 90, 100], "labelExpr": "datum.value % 20 == 0 ? datum.label : ''", "tickSize": {"condition": {"test": "datum.value % 20 == 0", "value": 4}, "value": 2}}},
        "y": {"field": "y", "type": "quantitative", "title": "Shear Stress [Pa]", "scale": {"domain": [-0.1, 1.4], "nice": false, "zero": false},
          "axis": {"values": [0, 0.1, 0.2, 0.3, 0.4, 0.5, 0.6, 0.7, 0.8, 0.9, 1.0, 1.1, 1.2, 1.3, 1.4], "format": ".1f", "labelExpr": "round(datum.value * 10) % 2 == 0 ? datum.label : ''", "tickSize": {"condition": {"test": "round(datum.value * 10) % 2 == 0", "value": 4}, "value": 2}}}
      },
      "layer": [
        {"mark": {"type": "line", "strokeWidth": 1, "strokeOpacity": 0.4},
          "encoding": {"stroke": {"field": "s", "type": "nominal", "legend": null,
            "scale": {"domain": ["MUC-FUC 3.0 descending curve", "MUC-FUC 3.0 ascending curve", "MUC 3.0 descending curve", "MUC 3.0 ascending curve", "FUC 3.0 descending curve", "FUC 3.0 ascending curve"], "range": ["#d39b1e", "#a57be8", "#1fa14f", "#1f5ae0", "#f21c1c", "#333333"]}}}},
        {"mark": {"type": "point", "filled": true, "size": 18, "opacity": 1},
          "encoding": {
            "color": {"field": "s", "type": "nominal",
              "scale": {"domain": ["FUC 3.0 ascending curve", "FUC 3.0 descending curve", "MUC 3.0 ascending curve", "MUC 3.0 descending curve", "MUC-FUC 3.0 ascending curve", "MUC-FUC 3.0 descending curve"], "range": ["#333333", "#f21c1c", "#1f5ae0", "#1fa14f", "#a57be8", "#d39b1e"]},
              "legend": {"encode": {"symbols": {"update": {
                "shape": {"signal": "['M-2,0H-0.25M0.85,0H2M-0.25,-0.55H0.85V0.55H-0.25Z','M-2,0H-0.3M0.9,0H2M-0.3,0A0.6,0.6 0 1,0 0.9,0A0.6,0.6 0 1,0 -0.3,0Z','M-2,0H-0.07M0.67,0H2M0.3,-0.65L0.95,0.5L-0.35,0.5Z','M-2,0H-0.07M0.67,0H2M0.3,0.65L0.95,-0.5L-0.35,-0.5Z','M-2,0H-0.35M0.95,0H2M0.3,-0.65L0.95,0L0.3,0.65L-0.35,0Z','M-2,0H-0.3M0.9,0H2M-0.3,0L0.9,-0.6L0.9,0.6Z'][datum.index]"},
                "stroke": {"signal": "['#333333','#f21c1c','#1f5ae0','#1fa14f','#a57be8','#d39b1e'][datum.index]"},
                "strokeOpacity": {"value": 0.4}, "strokeWidth": {"value": 1}}}}}},
            "shape": {"field": "s", "type": "nominal", "legend": null,
              "scale": {"domain": ["MUC-FUC 3.0 descending curve", "MUC-FUC 3.0 ascending curve", "MUC 3.0 descending curve", "MUC 3.0 ascending curve", "FUC 3.0 descending curve", "FUC 3.0 ascending curve"], "range": ["triangle-left", "diamond", "triangle-down", "triangle-up", "circle", "square"]}}}}
      ]
    },
    {
      "title": {"text": "B", "dx": -24},
      "width": 208, "height": 169,
      "data": {"name": "B"},
      "encoding": {
        "x": {"field": "x", "type": "quantitative", "title": "Shear Rate [1/s]", "scale": {"domain": [-10, 110], "nice": false, "zero": false},
          "axis": {"values": [0, 10, 20, 30, 40, 50, 60, 70, 80, 90, 100], "labelExpr": "datum.value % 20 == 0 ? datum.label : ''", "tickSize": {"condition": {"test": "datum.value % 20 == 0", "value": 4}, "value": 2}}},
        "y": {"field": "y", "type": "quantitative", "title": "Shear Stress [Pa]", "scale": {"domain": [-0.25, 2.25], "nice": false, "zero": false},
          "axis": {"values": [0, 0.25, 0.5, 0.75, 1.0, 1.25, 1.5, 1.75, 2.0], "format": ".1f", "labelExpr": "round(datum.value * 4) % 2 == 0 ? datum.label : ''", "tickSize": {"condition": {"test": "round(datum.value * 4) % 2 == 0", "value": 4}, "value": 2}}}
      },
      "layer": [
        {"mark": {"type": "line", "strokeWidth": 1, "strokeOpacity": 0.4},
          "encoding": {"stroke": {"field": "s", "type": "nominal", "legend": null,
            "scale": {"domain": ["MUC-FUC 7.0 descending curve", "MUC-FUC 7.0 ascending curve", "MUC 7.0 descending curve", "MUC 7.0 ascending curve", "FUC 7.0 descending curve", "FUC 7.0 ascending curve"], "range": ["#d39b1e", "#a57be8", "#1fa14f", "#1f5ae0", "#f21c1c", "#333333"]}}}},
        {"mark": {"type": "point", "filled": true, "size": 18, "opacity": 1},
          "encoding": {
            "color": {"field": "s", "type": "nominal",
              "scale": {"domain": ["FUC 7.0 ascending curve", "FUC 7.0 descending curve", "MUC 7.0 ascending curve", "MUC 7.0 descending curve", "MUC-FUC 7.0 ascending curve", "MUC-FUC 7.0 descending curve"], "range": ["#333333", "#f21c1c", "#1f5ae0", "#1fa14f", "#a57be8", "#d39b1e"]},
              "legend": {"encode": {"symbols": {"update": {
                "shape": {"signal": "['M-2,0H-0.25M0.85,0H2M-0.25,-0.55H0.85V0.55H-0.25Z','M-2,0H-0.3M0.9,0H2M-0.3,0A0.6,0.6 0 1,0 0.9,0A0.6,0.6 0 1,0 -0.3,0Z','M-2,0H-0.07M0.67,0H2M0.3,-0.65L0.95,0.5L-0.35,0.5Z','M-2,0H-0.07M0.67,0H2M0.3,0.65L0.95,-0.5L-0.35,-0.5Z','M-2,0H-0.35M0.95,0H2M0.3,-0.65L0.95,0L0.3,0.65L-0.35,0Z','M-2,0H-0.3M0.9,0H2M-0.3,0L0.9,-0.6L0.9,0.6Z'][datum.index]"},
                "stroke": {"signal": "['#333333','#f21c1c','#1f5ae0','#1fa14f','#a57be8','#d39b1e'][datum.index]"},
                "strokeOpacity": {"value": 0.4}, "strokeWidth": {"value": 1}}}}}},
            "shape": {"field": "s", "type": "nominal", "legend": null,
              "scale": {"domain": ["MUC-FUC 7.0 descending curve", "MUC-FUC 7.0 ascending curve", "MUC 7.0 descending curve", "MUC 7.0 ascending curve", "FUC 7.0 descending curve", "FUC 7.0 ascending curve"], "range": ["triangle-left", "diamond", "triangle-down", "triangle-up", "circle", "square"]}}}}
      ]
    },
    {
      "title": {"text": "C", "dx": -27},
      "width": 208, "height": 169,
      "data": {"name": "C"},
      "encoding": {
        "x": {"field": "x", "type": "quantitative", "title": "Shear Rate [1/s]", "scale": {"domain": [-10, 110], "nice": false, "zero": false},
          "axis": {"values": [0, 10, 20, 30, 40, 50, 60, 70, 80, 90, 100], "labelExpr": "datum.value % 20 == 0 ? datum.label : ''", "tickSize": {"condition": {"test": "datum.value % 20 == 0", "value": 4}, "value": 2}}},
        "y": {"field": "y", "type": "quantitative", "title": "Shear Stress [Pa]", "scale": {"domain": [-0.1, 0.9], "nice": false, "zero": false},
          "axis": {"values": [0, 0.1, 0.2, 0.3, 0.4, 0.5, 0.6, 0.7, 0.8], "format": ".1f", "labelExpr": "round(datum.value * 10) % 2 == 0 ? datum.label : ''", "tickSize": {"condition": {"test": "round(datum.value * 10) % 2 == 0", "value": 4}, "value": 2}}}
      },
      "layer": [
        {"mark": {"type": "line", "strokeWidth": 1, "strokeOpacity": 0.4},
          "encoding": {"stroke": {"field": "s", "type": "nominal", "legend": null,
            "scale": {"domain": ["MUC-FUC-U 3.0 descending curve", "MUC-FUC-U 3.0 ascending curve", "MUC-FUC-Tw20 3.0 descending curve", "MUC-FUC-Tw20 3.0 ascending curve", "MUC-FUC-NEM 3.0 descending curve", "MUC-FUC-NEM 3.0 ascending curve"], "range": ["#d39b1e", "#a57be8", "#1fa14f", "#1f5ae0", "#f21c1c", "#333333"]}}}},
        {"mark": {"type": "point", "filled": true, "size": 18, "opacity": 1},
          "encoding": {
            "color": {"field": "s", "type": "nominal",
              "scale": {"domain": ["MUC-FUC-NEM 3.0 ascending curve", "MUC-FUC-NEM 3.0 descending curve", "MUC-FUC-Tw20 3.0 ascending curve", "MUC-FUC-Tw20 3.0 descending curve", "MUC-FUC-U 3.0 ascending curve", "MUC-FUC-U 3.0 descending curve"], "range": ["#333333", "#f21c1c", "#1f5ae0", "#1fa14f", "#a57be8", "#d39b1e"]},
              "legend": {"encode": {"symbols": {"update": {
                "shape": {"signal": "['M-2,0H-0.25M0.85,0H2M-0.25,-0.55H0.85V0.55H-0.25Z','M-2,0H-0.3M0.9,0H2M-0.3,0A0.6,0.6 0 1,0 0.9,0A0.6,0.6 0 1,0 -0.3,0Z','M-2,0H-0.07M0.67,0H2M0.3,-0.65L0.95,0.5L-0.35,0.5Z','M-2,0H-0.07M0.67,0H2M0.3,0.65L0.95,-0.5L-0.35,-0.5Z','M-2,0H-0.35M0.95,0H2M0.3,-0.65L0.95,0L0.3,0.65L-0.35,0Z','M-2,0H-0.3M0.9,0H2M-0.3,0L0.9,-0.6L0.9,0.6Z'][datum.index]"},
                "stroke": {"signal": "['#333333','#f21c1c','#1f5ae0','#1fa14f','#a57be8','#d39b1e'][datum.index]"},
                "strokeOpacity": {"value": 0.4}, "strokeWidth": {"value": 1}}}}}},
            "shape": {"field": "s", "type": "nominal", "legend": null,
              "scale": {"domain": ["MUC-FUC-U 3.0 descending curve", "MUC-FUC-U 3.0 ascending curve", "MUC-FUC-Tw20 3.0 descending curve", "MUC-FUC-Tw20 3.0 ascending curve", "MUC-FUC-NEM 3.0 descending curve", "MUC-FUC-NEM 3.0 ascending curve"], "range": ["triangle-left", "diamond", "triangle-down", "triangle-up", "circle", "square"]}}}}
      ]
    },
    {
      "title": {"text": "D", "dx": -15},
      "width": 208, "height": 169,
      "data": {"name": "D"},
      "encoding": {
        "x": {"field": "x", "type": "quantitative", "title": "Shear Rate [1/s]", "scale": {"domain": [-10, 110], "nice": false, "zero": false},
          "axis": {"values": [0, 10, 20, 30, 40, 50, 60, 70, 80, 90, 100], "labelExpr": "datum.value % 20 == 0 ? datum.label : ''", "tickSize": {"condition": {"test": "datum.value % 20 == 0", "value": 4}, "value": 2}}},
        "y": {"field": "y", "type": "quantitative", "title": "Shear Stress [Pa]", "scale": {"domain": [-0.1, 0.9], "nice": false, "zero": false},
          "axis": {"values": [0, 0.1, 0.2, 0.3, 0.4, 0.5, 0.6, 0.7, 0.8], "format": ".1f", "labelExpr": "round(datum.value * 10) % 2 == 0 ? datum.label : ''", "tickSize": {"condition": {"test": "round(datum.value * 10) % 2 == 0", "value": 4}, "value": 2}}}
      },
      "layer": [
        {"mark": {"type": "line", "strokeWidth": 1, "strokeOpacity": 0.4},
          "encoding": {"stroke": {"field": "s", "type": "nominal", "legend": null,
            "scale": {"domain": ["MUC-FUC-U 7.0 descending curve", "MUC-FUC-U 7.0 ascending curve", "MUC-FUC-Tw20 7.0 descending curve", "MUC-FUC-Tw20 7.0 ascending curve", "MUC-FUC-NEM 7.0 descending curve", "MUC-FUC-NEM 7.0 ascending curve"], "range": ["#d39b1e", "#a57be8", "#1fa14f", "#1f5ae0", "#f21c1c", "#333333"]}}}},
        {"mark": {"type": "point", "filled": true, "size": 18, "opacity": 1},
          "encoding": {
            "color": {"field": "s", "type": "nominal",
              "scale": {"domain": ["MUC-FUC-NEM 7.0 ascending curve", "MUC-FUC-NEM 7.0 descending curve", "MUC-FUC-Tw20 7.0 ascending curve", "MUC-FUC-Tw20 7.0 descending curve", "MUC-FUC-U 7.0 ascending curve", "MUC-FUC-U 7.0 descending curve"], "range": ["#333333", "#f21c1c", "#1f5ae0", "#1fa14f", "#a57be8", "#d39b1e"]},
              "legend": {"encode": {"symbols": {"update": {
                "shape": {"signal": "['M-2,0H-0.25M0.85,0H2M-0.25,-0.55H0.85V0.55H-0.25Z','M-2,0H-0.3M0.9,0H2M-0.3,0A0.6,0.6 0 1,0 0.9,0A0.6,0.6 0 1,0 -0.3,0Z','M-2,0H-0.07M0.67,0H2M0.3,-0.65L0.95,0.5L-0.35,0.5Z','M-2,0H-0.07M0.67,0H2M0.3,0.65L0.95,-0.5L-0.35,-0.5Z','M-2,0H-0.35M0.95,0H2M0.3,-0.65L0.95,0L0.3,0.65L-0.35,0Z','M-2,0H-0.3M0.9,0H2M-0.3,0L0.9,-0.6L0.9,0.6Z'][datum.index]"},
                "stroke": {"signal": "['#333333','#f21c1c','#1f5ae0','#1fa14f','#a57be8','#d39b1e'][datum.index]"},
                "strokeOpacity": {"value": 0.4}, "strokeWidth": {"value": 1}}}}}},
            "shape": {"field": "s", "type": "nominal", "legend": null,
              "scale": {"domain": ["MUC-FUC-U 7.0 descending curve", "MUC-FUC-U 7.0 ascending curve", "MUC-FUC-Tw20 7.0 descending curve", "MUC-FUC-Tw20 7.0 ascending curve", "MUC-FUC-NEM 7.0 descending curve", "MUC-FUC-NEM 7.0 ascending curve"], "range": ["triangle-left", "diamond", "triangle-down", "triangle-up", "circle", "square"]}}}}
      ]
    }
  ]
}
